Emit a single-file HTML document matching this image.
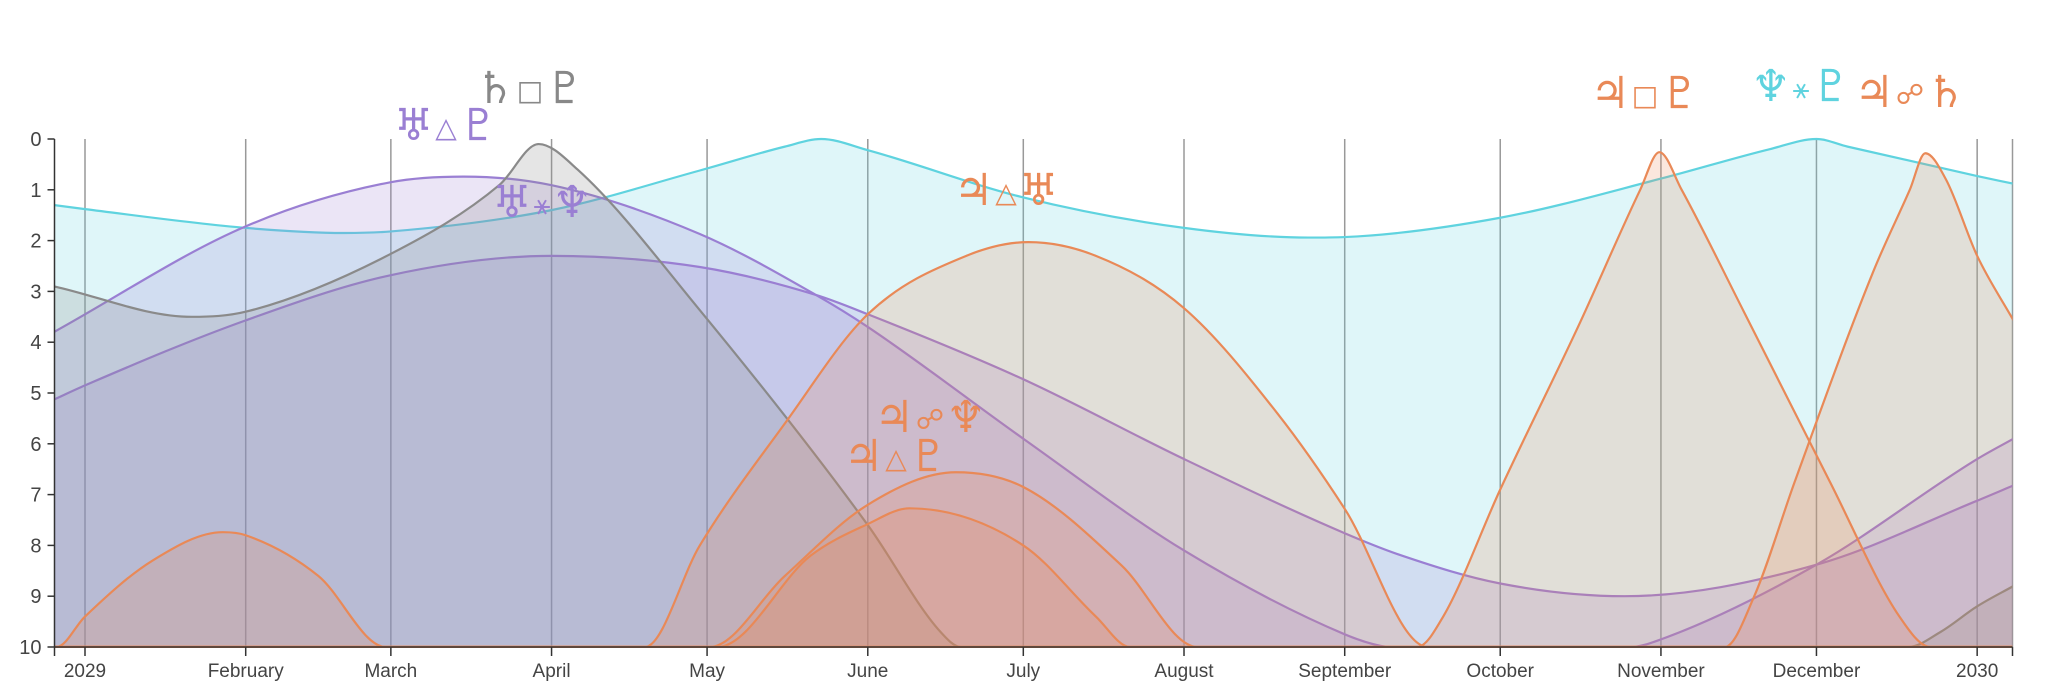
<!DOCTYPE html>
<html><head><meta charset="utf-8">
<style>
html,body{margin:0;padding:0;background:#fff;}
svg{display:block;font-family:"Liberation Sans","DejaVu Sans",sans-serif;}
.lbl{font-family:"DejaVu Sans","Liberation Sans",sans-serif;}
</style></head>
<body>
<svg id="chart" width="2048" height="683" viewBox="0 0 2048 683" xmlns="http://www.w3.org/2000/svg">
<g id="grid"></g>
<g id="series"></g>
<g id="axes"></g>
<g id="labels"></g>
</svg>
<script>
// ---- data (x in days since 2029-01-01, y = orb in degrees) ----
const monthDays = [0,31,59,90,120,151,181,212,243,273,304,334,365];
const monthLabels = ["2029","February","March","April","May","June","July","August","September","October","November","December","2030"];
const yTicks = [0,1,2,3,4,5,6,7,8,9,10];

const cyanDays = [-6,0,31,50,59,90,118.6,135,142,151,181,212,236,243,273,304,325,334,340,365,372];
const cyanVals = [1.3,1.38,1.75,1.85,1.82,1.4,0.62,0.15,0,0.22,1.15,1.75,1.94,1.93,1.55,0.78,0.2,0,0.15,0.73,0.88];

const purpleADays = [-6,31,59,73,90,118.6,141,151,181,212,243,250,252,298,304,334,365,372];
const purpleAVals = [3.8,1.72,0.85,0.74,0.91,1.87,3.07,3.7,5.9,8.1,9.75,9.98,10,10,9.85,8.38,6.3,5.9];

const purpleBDays = [-6,0,31,59,90,118.6,141,151,181,212,243,254,273,297,334,365,372];
const purpleBVals = [5.13,4.85,3.57,2.68,2.3,2.52,3.07,3.45,4.73,6.3,7.76,8.2,8.75,9.0,8.38,7.12,6.82];

const greyDays = [-6,20.6,31,59,80,87.5,95,118.6,151,165,169,351.7,358,365,372];
const greyVals = [2.9,3.5,3.4,2.26,0.9,0.1,0.6,3.37,7.6,9.7,10,10,9.7,9.2,8.8];

const o1Days = [-6,-5.5,0,13,26.6,31,45,58,59,372];
const o1Vals = [10,10,9.4,8.3,7.74,7.8,8.6,10,10,10];

const o2Days = [-6,108,118.6,135,151,170,182,195,212,230,243,259,372];
const o2Vals = [10,10,8.0,5.6,3.45,2.3,2.03,2.3,3.33,5.4,7.28,10,10];

const o3Days = [-6,120.5,135,151,168,181,200,214.6,372];
const o3Vals = [10,10,8.6,7.2,6.56,6.85,8.4,10,10];

const o4Days = [-6,122,140,151,159,181,195,201.6,372];
const o4Vals = [10,10,8.2,7.58,7.27,8.0,9.4,10,10];

const o5Days = [-6,257,262,273,288,300,303.7,308,320,336.6,350,356,372];
const o5Vals = [10,10,9.4,6.9,3.7,1.0,0.26,1.0,3.4,6.75,9.4,10,10];

const o6Days = [-6,316.3,322,329.8,345,352,355,359,365,372];
const o6Vals = [10,10,9.0,6.75,2.6,1.0,0.28,0.8,2.3,3.57];

// ---- scales ----
const X0 = 85, PXD = 5.184, Y0 = 139, PXU = 50.8;
const xS = d => X0 + d * PXD;
const yS = v => Y0 + v * PXU;
const LEFT = 54.5, RIGHT = 2012.5, BOTTOM = yS(10);
const NS = "http://www.w3.org/2000/svg";
function mk(tag, attrs, parent){const e=document.createElementNS(NS,tag);for(const k in attrs)e.setAttribute(k,attrs[k]);parent.appendChild(e);return e;}

function monoPath(xs, ys){
  const n=xs.length, d=[], m=[];
  for(let i=0;i<n-1;i++) d.push((ys[i+1]-ys[i])/(xs[i+1]-xs[i]));
  m[0]=d[0]; m[n-1]=d[n-2];
  for(let i=1;i<n-1;i++){ if(d[i-1]*d[i]<=0) m[i]=0; else { m[i]=(d[i-1]+d[i])/2; } }
  for(let i=0;i<n-1;i++){ if(d[i]===0){m[i]=0;m[i+1]=0;continue;} const a=m[i]/d[i], b=m[i+1]/d[i], s=a*a+b*b; if(s>9){const t=3/Math.sqrt(s); m[i]=t*a*d[i]; m[i+1]=t*b*d[i];} }
  let p="M"+xs[0].toFixed(2)+","+ys[0].toFixed(2);
  for(let i=0;i<n-1;i++){const h=(xs[i+1]-xs[i])/3;
    p+="C"+(xs[i]+h).toFixed(2)+","+(ys[i]+m[i]*h).toFixed(2)+" "+(xs[i+1]-h).toFixed(2)+","+(ys[i+1]-m[i+1]*h).toFixed(2)+" "+xs[i+1].toFixed(2)+","+ys[i+1].toFixed(2);}
  return p;
}

const grid=document.getElementById('grid');
monthDays.forEach((d,i)=>{
  const l=mk('line',{x1:xS(d),x2:xS(d),y1:Y0,y2:BOTTOM,stroke:'#999',"stroke-width":1.5},grid);
  
  
});
const rl=mk('line',{x1:RIGHT,x2:RIGHT,y1:Y0,y2:BOTTOM,stroke:'#999',"stroke-width":1.5},grid);



const seriesDefs=[
 ['cyan-neptune-sextile-pluto',cyanDays,cyanVals,'#5fd3df'],
 ['purple-uranus-sextile-neptune',purpleBDays,purpleBVals,'#9a7fd3'],
 ['purple-uranus-trine-pluto',purpleADays,purpleAVals,'#9a7fd3'],
 ['grey-saturn-square-pluto',greyDays,greyVals,'#8a8a8a'],
 ['orange-jupiter-hump-jan',o1Days,o1Vals,'#e98957'],
 ['orange-jupiter-trine-uranus',o2Days,o2Vals,'#e98957'],
 ['orange-jupiter-opposition-neptune',o3Days,o3Vals,'#e98957'],
 ['orange-jupiter-trine-pluto',o4Days,o4Vals,'#e98957'],
 ['orange-jupiter-square-pluto',o5Days,o5Vals,'#e98957'],
 ['orange-jupiter-opposition-saturn',o6Days,o6Vals,'#e98957']
];
const sg=document.getElementById('series');
const defs=mk('defs',{},sg);
const cp=mk('clipPath',{id:'plotclip'},defs);
mk('rect',{x:LEFT,y:Y0-5,width:RIGHT-LEFT,height:BOTTOM-Y0+6},cp);
seriesDefs.forEach(s=>{
  const xs=s[1].map(xS), ys=s[2].map(v=>yS(Math.max(0,Math.min(10,v))));
  const line=monoPath(xs,ys);
  const g=mk('g',{"clip-path":"url(#plotclip)"},sg);
  
  
  const a=mk('path',{d:line+"L"+xs[xs.length-1]+","+BOTTOM+"L"+xs[0]+","+BOTTOM+"Z",fill:s[3],"fill-opacity":s[3]=='#8a8a8a'?0.22:0.2,stroke:'none'},g);
  
  
  const l=mk('path',{d:line,fill:'none',stroke:s[3],"stroke-width":2.2},g);
  
  
});

const ax=document.getElementById('axes');
const ya=mk('line',{x1:LEFT,x2:LEFT,y1:Y0,y2:BOTTOM,stroke:'#333',"stroke-width":1.5},ax);


const xa=mk('line',{x1:LEFT,x2:RIGHT,y1:BOTTOM,y2:BOTTOM,stroke:'#333',"stroke-width":1.5},ax);


yTicks.forEach(v=>{
  mk('line',{x1:LEFT-7,x2:LEFT,y1:yS(v),y2:yS(v),stroke:'#333',"stroke-width":1.5},ax);
  const t=mk('text',{x:LEFT-13,y:yS(v)+7,"text-anchor":"end","font-size":20,fill:'#444'},ax);
  t.textContent=v;
  
  
});
monthDays.forEach((d,i)=>{
  mk('line',{x1:xS(d),x2:xS(d),y1:BOTTOM,y2:BOTTOM+9,stroke:'#333',"stroke-width":1.5},ax);
  const t=mk('text',{x:xS(d),y:BOTTOM+30,"text-anchor":"middle","font-size":19,fill:'#444'},ax);
  t.textContent=monthLabels[i];
  
  
});
[LEFT,RIGHT].forEach(x=>mk('line',{x1:x,x2:x,y1:BOTTOM,y2:BOTTOM+9,stroke:'#333',"stroke-width":1.5},ax));

const labels=[
 ['saturn-square-pluto','♄','□','♇',530,87,'#888'],
 ['uranus-trine-pluto','♅','△','♇',446,124,'#9a7fd3'],
 ['uranus-sextile-neptune','♅','⚹','♆',542,201,'#9a7fd3'],
 ['jupiter-trine-uranus','♃','△','♅',1006,189,'#e98957'],
 ['jupiter-opposition-neptune','♃','☍','♆',930,416,'#e98957'],
 ['jupiter-trine-pluto','♃','△','♇',896,455,'#e98957'],
 ['jupiter-square-pluto','♃','□','♇',1645,92,'#e98957'],
 ['neptune-sextile-pluto','♆','⚹','♇',1801,85,'#5fd3df'],
 ['jupiter-opposition-saturn','♃','☍','♄',1910,91,'#e98957']
];
const lg=document.getElementById('labels');
labels.forEach(L=>{
  const t=mk('text',{x:L[4],y:L[5]+16,"text-anchor":"middle",fill:L[6],"class":"lbl","font-weight":"bold"},lg);
  
  
  const a=mk('tspan',{"font-size":44},t); a.textContent=L[1];
  const b=mk('tspan',{"font-size":28,dx:2,dy:-3,"font-weight":"normal"},t); b.textContent=L[2];
  const c=mk('tspan',{"font-size":44,dx:2,dy:3},t); c.textContent=L[3];
});
</script>
</body></html>
